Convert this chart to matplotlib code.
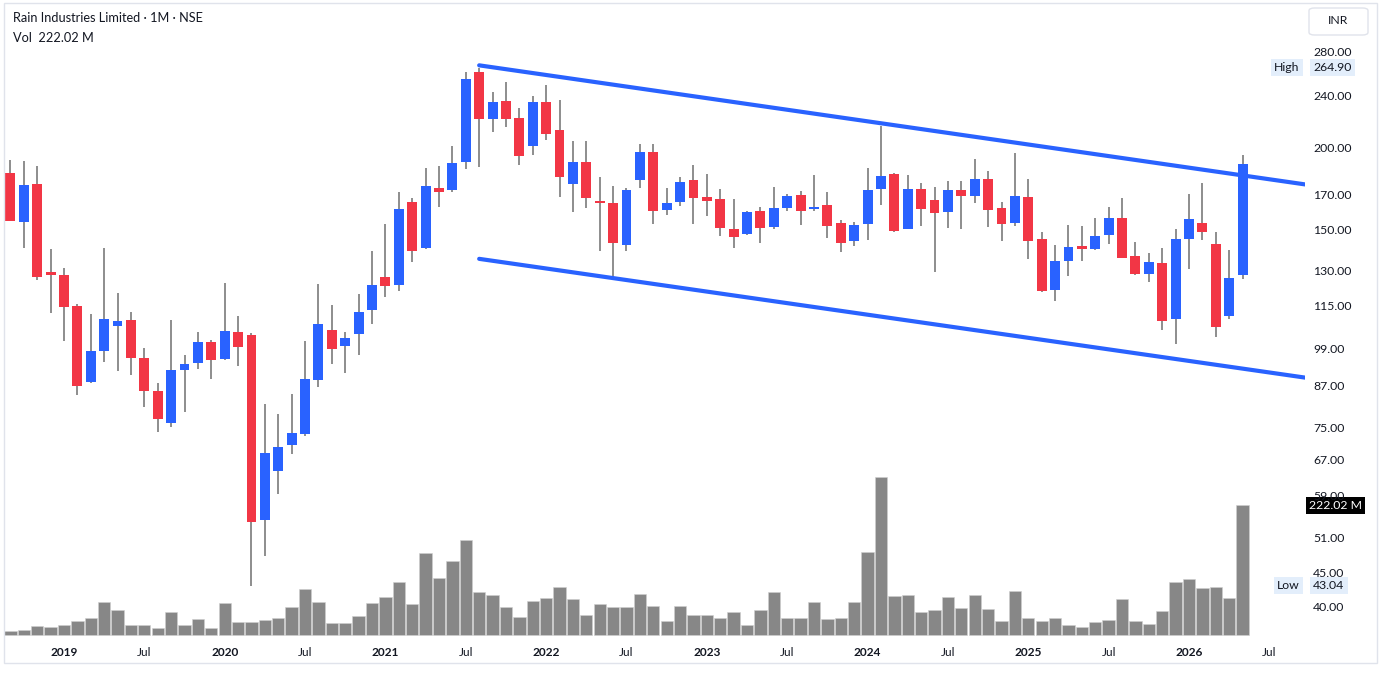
import numpy as np
import pandas as pd
import matplotlib
matplotlib.use("Agg")
import matplotlib.pyplot as plt
from matplotlib.patches import FancyBboxPatch, Rectangle
from matplotlib.ticker import NullLocator

plt.rcParams['font.family'] = ['Lato', 'DejaVu Sans']

title = "Rain Industries Limited · 1M · NSE"
vol_text = "Vol  222.02 M"
start_month = "2018-09-01"

# monthly OHLC (INR), Sep 2018 .. May 2026
opens = [183.0, 154.0, 176.0, 129.3, 128.0, 115.0, 88.1, 98.2, 107.1, 109.3,
         95.7, 85.2, 76.3, 91.7, 94.1, 101.3, 95.3, 105.0, 103.6, 54.2,
         64.3, 70.4, 73.3, 88.7, 105.6, 99.9, 104.2, 113.4, 127.1, 123.6,
         165.6, 141.0, 173.5, 172.7, 190.4, 260.8, 221.1, 235.5, 222.2, 201.5,
         235.2, 212.9, 176.1, 190.2, 166.0, 164.8, 142.3, 178.7, 197.0, 160.6,
         165.4, 178.7, 168.4, 167.2, 150.4, 147.8, 160.3, 151.4, 162.1, 169.8,
         161.3, 163.6, 153.6, 144.1, 153.1, 173.4, 182.5, 150.7, 173.3, 166.6,
         159.7, 172.5, 169.2, 179.1, 162.1, 153.7, 168.2, 145.4, 121.6, 134.3,
         141.3, 140.1, 147.3, 156.4, 137.0, 128.6, 133.7, 109.7, 145.2, 153.6,
         142.5, 111.0, 128.2]
highs = [192.0, 191.0, 188.0, 140.3, 131.0, 115.7, 111.5, 141.0, 120.2, 112.4,
         99.0, 87.8, 109.3, 96.7, 104.9, 101.9, 124.5, 111.0, 104.5, 81.4,
         78.6, 84.3, 101.5, 124.1, 115.2, 104.7, 119.7, 139.2, 152.9, 171.2,
         167.9, 186.2, 187.7, 201.5, 261.4, 264.9, 243.6, 252.4, 230.0, 239.9,
         249.3, 236.6, 204.7, 204.7, 180.4, 175.0, 173.9, 202.7, 202.7, 173.5,
         180.4, 188.1, 182.3, 173.1, 167.2, 160.1, 162.4, 174.4, 170.3, 171.9,
         181.9, 171.1, 155.3, 154.4, 186.5, 216.1, 183.3, 181.9, 176.9, 174.1,
         178.1, 178.1, 192.2, 184.5, 165.6, 196.4, 179.1, 148.7, 142.3, 152.4,
         152.1, 156.4, 162.4, 167.8, 143.6, 138.2, 140.6, 150.3, 170.3, 176.9,
         148.7, 139.8, 194.9]
lows = [154.5, 141.0, 126.0, 112.0, 101.6, 84.0, 87.8, 94.2, 91.3, 90.0,
        80.7, 73.7, 75.2, 79.2, 91.9, 88.8, 95.0, 93.1, 43.04, 47.7,
        59.3, 68.2, 72.8, 86.5, 93.8, 90.8, 96.6, 107.9, 118.7, 120.9,
        134.2, 140.5, 162.7, 171.5, 185.9, 186.8, 211.4, 215.1, 188.1, 194.9,
        205.3, 168.2, 159.8, 162.2, 139.5, 126.0, 139.5, 174.0, 153.0, 157.9,
        163.1, 153.3, 157.7, 146.8, 140.9, 147.2, 143.4, 150.7, 160.4, 152.4,
        160.3, 145.6, 139.0, 141.7, 144.8, 163.6, 148.7, 150.2, 152.1, 129.2,
        151.2, 150.7, 165.1, 151.4, 144.2, 152.2, 135.2, 120.5, 117.0, 127.8,
        134.5, 139.8, 142.6, 135.7, 128.2, 124.9, 105.6, 100.4, 130.7, 145.0,
        103.1, 109.7, 126.3]
closes = [155.0, 175.5, 127.3, 128.1, 114.6, 86.8, 98.0, 109.8, 108.8, 95.8,
          85.1, 77.3, 91.7, 93.7, 101.3, 95.1, 105.2, 99.5, 53.8, 68.5,
          69.9, 73.5, 89.0, 107.8, 98.9, 102.6, 112.6, 123.6, 123.3, 161.6,
          139.2, 174.9, 171.2, 189.5, 254.6, 221.1, 234.7, 221.3, 194.4, 234.7,
          210.3, 180.8, 190.2, 167.7, 164.6, 143.4, 172.5, 197.0, 160.4, 164.8,
          177.6, 167.5, 165.8, 151.0, 146.5, 159.8, 151.0, 161.7, 169.0, 160.4,
          162.5, 152.2, 143.4, 152.7, 172.5, 181.0, 149.2, 172.9, 161.3, 159.4,
          172.5, 169.2, 179.5, 161.1, 152.9, 169.0, 144.4, 121.2, 134.5, 141.3,
          140.5, 147.0, 156.4, 136.0, 128.6, 134.2, 109.0, 145.4, 155.6, 148.8,
          106.7, 126.9, 188.8]
# monthly volume, millions
volumes = [7.4, 9.1, 15.9, 14.2, 17.1, 24.5, 29.6, 56.4, 43.3, 17.1,
           17.1, 12.5, 39.3, 17.1, 28.5, 12.5, 55.2, 23.3, 23.3, 26.2,
           30.2, 48.4, 79.1, 56.4, 21.1, 21.1, 33.0, 55.2, 65.5, 90.5,
           53.5, 140.6, 97.9, 127.0, 162.8, 73.4, 68.3, 48.4, 31.3, 58.6,
           63.8, 82.6, 61.5, 35.3, 53.5, 48.4, 48.4, 70.6, 50.1, 24.5,
           50.1, 34.2, 35.3, 30.2, 39.9, 17.1, 43.3, 73.4, 29.0, 29.0,
           57.5, 28.5, 30.2, 57.5, 141.8, 269.9, 67.7, 68.9, 39.3, 43.3,
           65.5, 47.3, 68.3, 45.0, 23.9, 75.7, 29.0, 24.5, 29.0, 18.2,
           14.8, 22.8, 26.2, 62.1, 23.9, 19.9, 41.6, 91.7, 96.2, 81.4,
           82.6, 64.3, 222.02]

price_ticks = [280, 240, 200, 170, 150, 130, 115, 99, 87, 75, 67, 59, 51, 45, 40]
high_value = 264.90
low_value = 43.04
last_volume = 222.02

# channel lines: (month index, price)
upper_x = [35.0, 96.7]
upper_y = [267.2, 175.9]
lower_x = [35.0, 96.7]
lower_y = [135.5, 89.3]

W, H = 1381, 674
UP = '#2962FF'
DOWN = '#F23645'
TXT = '#131722'

x = np.arange(len(opens))
o = np.array(opens)
c = np.array(closes)
colors = [UP if cc >= oo else DOWN for oo, cc in zip(o, c)]
body_bot = np.minimum(o, c)
body_h = np.maximum(np.abs(c - o), body_bot * 0.009)

fig = plt.figure(figsize=(W / 100, H / 100), dpi=100)
rect = [5 / W, 1 - 640 / H, 1300 / W, 635 / H]

# volume pane (underneath)
ax_v = fig.add_axes(rect)
ax_v.bar(x, volumes, width=0.92, color='#878787', edgecolor='#cfcfcf', linewidth=0.4)
ax_v.set_ylim(-8.0, 1076.5)
for s in ax_v.spines.values():
    s.set_visible(False)
ax_v.set_yticks([])
ax_v.tick_params(axis='x', bottom=False, labelbottom=False)

# price pane
ax = fig.add_axes(rect, sharex=ax_v)
ax.patch.set_visible(False)
ax.set_yscale('log')
ax.vlines(x, lows, highs, color='#6f6f6f', linewidth=1.1, zorder=2)
ax.bar(x, body_h, bottom=body_bot, width=0.74, color=colors, zorder=3)
ax.plot(upper_x, upper_y, color=UP, linewidth=3, solid_capstyle='round', zorder=4)
ax.plot(lower_x, lower_y, color=UP, linewidth=3, solid_capstyle='round', zorder=4)
ax.set_ylim(35.57, 330.2)
ax.set_xlim(-0.403, 96.66)
for s in ax.spines.values():
    s.set_visible(False)

ax.yaxis.tick_right()
ax.yaxis.set_minor_locator(NullLocator())
ax.set_yticks(price_ticks)
ax.set_yticklabels([f"{v:.2f}" for v in price_ticks])
ax.tick_params(axis='y', length=0, pad=6, labelsize=8.8, labelcolor=TXT)

months = pd.date_range(start_month, periods=96, freq="MS")
tick_pos = [i for i, m in enumerate(months) if m.month in (1, 7)]
tick_lab = [str(months[i].year) if months[i].month == 1 else "Jul" for i in tick_pos]
ax.set_xticks(tick_pos)
ax.set_xticklabels(tick_lab)
ax.tick_params(axis='x', length=0, pad=5, labelsize=8.6, labelcolor=TXT)
for lab in ax.get_xticklabels():
    if lab.get_text() != "Jul":
        lab.set_fontweight('bold')

# high / low markers on the price scale
box = dict(boxstyle='square,pad=0.25', fc='#e3eefb', ec='none')
for name, val in [("High", high_value), ("Low", low_value)]:
    ax.annotate(name, xy=(1, val), xycoords=('axes fraction', 'data'),
                xytext=(-4, 0), textcoords='offset points', ha='right', va='center',
                fontsize=8.8, color=TXT, bbox=box, zorder=6, annotation_clip=False)
    ax.annotate(f"{val:.2f}", xy=(1, val), xycoords=('axes fraction', 'data'),
                xytext=(6, 0), textcoords='offset points', ha='left', va='center',
                fontsize=8.8, color=TXT, bbox=box, zorder=6, annotation_clip=False)

ax_v.annotate(f"{last_volume:.2f} M", xy=(1, last_volume), xycoords=('axes fraction', 'data'),
              xytext=(3, 0), textcoords='offset points', ha='left', va='center',
              fontsize=8.8, color='white',
              bbox=dict(boxstyle='square,pad=0.25', fc='black', ec='none'),
              zorder=7, annotation_clip=False)

# header text
fig.text(13 / W, 1 - 18 / H, title, fontsize=9.2, color=TXT, va='center')
fig.text(13 / W, 1 - 38 / H, vol_text, fontsize=9.2, color=TXT, va='center')

# currency box
fig.patches.append(FancyBboxPatch((1309 / W, 1 - 35 / H), 59 / W, 27 / H,
                                  boxstyle='round,pad=0,rounding_size=0.004',
                                  transform=fig.transFigure, fc='white', ec='#e0e3eb', lw=1))
fig.text(1338 / W, 1 - 21 / H, "INR", fontsize=8.8, color=TXT, ha='center', va='center')

# outer frame
fig.patches.append(Rectangle((4 / W, 1 - 663 / H), 1373 / W, 660 / H, transform=fig.transFigure,
                             fc='none', ec='#e0e3eb', lw=1))

fig.savefig("out.png", dpi=100)
